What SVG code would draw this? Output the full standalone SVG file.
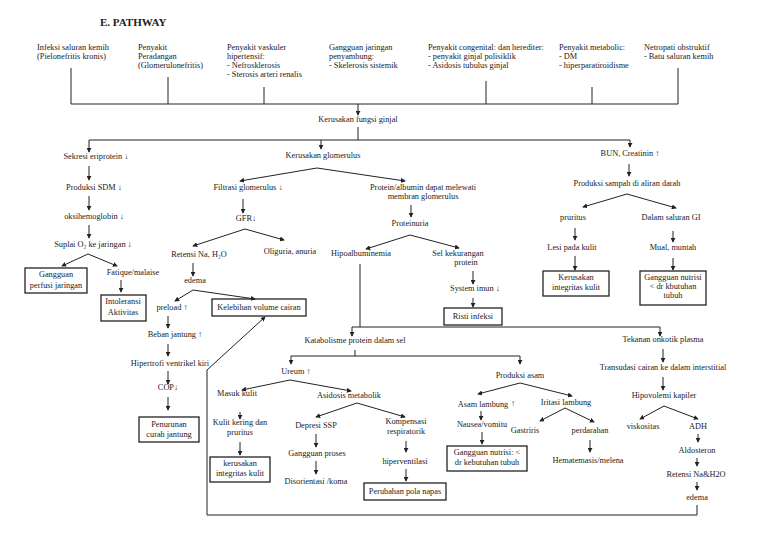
<svg xmlns="http://www.w3.org/2000/svg" width="768" height="543" viewBox="0 0 768 543">
<style>
text{font-family:"Liberation Serif","DejaVu Serif",serif;font-size:8.3px;fill:#222}
.c{text-anchor:middle}
.t{font-weight:bold;font-size:11px}
.l{stroke:#222;stroke-width:1;fill:none}
.a{stroke:#222;stroke-width:1;fill:none;marker-end:url(#ah)}
.b{stroke:#222;stroke-width:1.3;fill:#fff}
</style>
<defs><marker id="ah" viewBox="0 0 6 6" refX="5" refY="3" markerWidth="5" markerHeight="5" orient="auto"><path d="M0,0L6,3L0,6z" fill="#222"/></marker></defs>
<rect width="768" height="543" fill="#fff"/>
<text x="100" y="26" class="t">E. PATHWAY</text>
<g id="causes">
<text x="37" y="50">Infeksi saluran kemih</text><text x="37" y="59">(Pielonefritis kronis)</text>
<text x="138" y="50">Penyakit</text><text x="138" y="59">Peradangan</text><text x="138" y="68">(Glomerulonefritis)</text>
<text x="227" y="50">Penyakit vaskuler</text><text x="227" y="59">hipertensif:</text><text x="227" y="68">-  Nefrosklerosis</text><text x="227" y="77">-  Sterosis arteri renalis</text>
<text x="329" y="50">Gangguan jaringan</text><text x="329" y="59">penyambung:</text><text x="329" y="68">-  Skelerosis sistemik</text>
<text x="428" y="50">Penyakit congenital: dan herediter:</text><text x="428" y="59">-  penyakit ginjal polisiklik</text><text x="428" y="68">-  Asidosis tubulus ginjal</text>
<text x="559" y="50">Penyakit metabolic:</text><text x="559" y="59">-  DM</text><text x="559" y="68">-  hiperparatiroidisme</text>
<text x="644" y="50">Netropati obstruktif</text><text x="644" y="59">-  Batu saluran kemih</text>
</g>
<g id="nodes">
<text x="358" y="122" class="c">Kerusakan fungsi ginjal</text>
<text x="96" y="159" class="c">Sekresi eriprotein ↓</text>
<text x="94" y="190" class="c">Produksi SDM ↓</text>
<text x="94" y="219" class="c">oksihemoglobin ↓</text>
<text x="93" y="247" class="c">Suplai O₂ ke jaringan ↓</text>
<rect x="25" y="268" width="62" height="25" class="b"/><text x="56" y="277" class="c">Gangguan</text><text x="56" y="288" class="c">perfusi jaringan</text>
<text x="133" y="275" class="c">Fatique/malaise</text>
<rect x="101" y="295" width="45" height="26" class="b"/><text x="123" y="304" class="c">Intoleransi</text><text x="123" y="315" class="c">Aktivitas</text>
<text x="323" y="158" class="c">Kerusakan glomerulus</text>
<text x="248" y="190" class="c">Filtrasi glomerulus ↓</text>
<text x="246" y="221" class="c">GFR↓</text>
<text x="199" y="257" class="c">Retensi Na, H₂O</text>
<text x="290" y="254" class="c">Oliguria, anuria</text>
<text x="195" y="283" class="c">edema</text>
<text x="172" y="310" class="c">preload ↑</text>
<rect x="212" y="299" width="94" height="17" class="b"/><text x="259" y="310" class="c">Kelebihan volume cairan</text>
<text x="175" y="337" class="c">Beban jantung ↑</text>
<text x="170" y="366" class="c">Hipertrofi ventrikel kiri</text>
<text x="168" y="390" class="c">COP↓</text>
<rect x="139" y="417" width="60" height="25" class="b"/><text x="169" y="427" class="c">Penurunan</text><text x="169" y="437" class="c">curah jantung</text>
<text x="423" y="190" class="c">Protein/albumin dapat melewati</text><text x="423" y="199" class="c">membran glomerulus</text>
<text x="410" y="226" class="c">Proteinuria</text>
<text x="361" y="256" class="c">Hipoalbuminemia</text>
<text x="458" y="256" class="c">Sel  kekurangan</text><text x="466" y="265" class="c">protein</text>
<text x="475" y="291" class="c">System imun ↓</text>
<rect x="444" y="308" width="58" height="17" class="b"/><text x="473" y="319" class="c">Risti infeksi</text>
<text x="630" y="156" class="c">BUN, Creatinin ↑</text>
<text x="627" y="186" class="c">Produksi sampah di aliran darah</text>
<text x="573" y="220" class="c">pruritus</text>
<text x="671" y="220" class="c">Dalam saluran GI</text>
<text x="572" y="250" class="c">Lesi pada kulit</text>
<text x="673" y="250" class="c">Mual, muntah</text>
<rect x="543" y="271" width="66" height="25" class="b"/><text x="576" y="280" class="c">Kerusakan</text><text x="576" y="290" class="c">integritas kulit</text>
<rect x="640" y="271" width="66" height="34" class="b"/><text x="673" y="280" class="c">Gangguan nutrisi</text><text x="673" y="289" class="c">&lt; dr kbutuhan</text><text x="673" y="298" class="c">tubuh</text>
<text x="355" y="343" class="c">Katabolisme protein dalam sel</text>
<text x="663" y="342" class="c">Tekanan onkotik plasma</text>
<text x="296" y="374" class="c">Ureum ↑</text>
<text x="237" y="396" class="c">Masuk kulit</text>
<text x="349" y="398" class="c">Asidosis metabolik</text>
<text x="240" y="425" class="c">Kulit kering dan</text><text x="240" y="435" class="c">pruritus</text>
<rect x="210" y="457" width="60" height="25" class="b"/><text x="240" y="466" class="c">kerusakan</text><text x="240" y="476" class="c">integritas kulit</text>
<text x="316" y="428" class="c">Depresi SSP</text>
<text x="317" y="456" class="c">Gangguan proses</text>
<text x="316" y="484" class="c">Disorientasi /koma</text>
<text x="406" y="424" class="c">Kompensasi</text><text x="406" y="434" class="c">respiratorik</text>
<text x="405" y="464" class="c">hiperventilasi</text>
<rect x="364" y="483" width="82" height="17" class="b"/><text x="405" y="494" class="c">Perubahan  pola napas</text>
<text x="520" y="378" class="c">Produksi asam</text>
<text x="483" y="407" class="c">Asam lambung</text><text x="513" y="406" class="c">↑</text>
<text x="482" y="427" class="c">Nausea/vomitu</text>
<rect x="447" y="446" width="80" height="25" class="b"/><text x="487" y="455" class="c">Gangguan nutrisi: &lt;</text><text x="487" y="465" class="c">dr kebutuhan tubuh</text>
<text x="566" y="405" class="c">Iritasi lambung</text>
<text x="525" y="433" class="c">Gastriris</text>
<text x="590" y="433" class="c">perdarahan</text>
<text x="588" y="463" class="c">Hematemasis/melena</text>
<text x="663" y="370" class="c">Transudasi cairan ke dalam interstitial</text>
<text x="664" y="398" class="c">Hipovolemi kapiler</text>
<text x="643" y="429" class="c">viskositas</text>
<text x="698" y="429" class="c">ADH</text>
<text x="697" y="453" class="c">Aldosteron</text>
<text x="696" y="477" class="c">Retensi Na&amp;H2O</text>
<text x="697" y="500" class="c">edema</text>
</g>
<g id="connectors">
<path class="l" d="M71,68V104M168,77V104M264,87V104M486,81V104M592,87V104M678,68V104M71,104H678"/>
<path class="a" d="M358,104V115"/>
<path class="l" d="M358,127V140M89,140H630"/>
<path class="a" d="M89,140V152"/><path class="a" d="M321,140V149"/><path class="a" d="M630,140V147"/>
<path class="a" d="M89,166V180"/><path class="a" d="M89,196V210"/><path class="a" d="M89,225V238"/>
<path class="a" d="M88,254L62,266"/><path class="a" d="M88,254L117,266"/>
<path class="a" d="M121,280V292"/>
<path class="a" d="M317,168L240,181"/><path class="a" d="M317,168L405,181"/>
<path class="a" d="M243,199V213"/>
<path class="a" d="M245,229L193,246"/><path class="a" d="M245,229L284,240"/>
<path class="a" d="M193,263V276"/>
<path class="a" d="M193,290L175,301"/><path class="a" d="M193,290L255,299"/>
<path class="a" d="M168,316V328"/><path class="a" d="M168,344V356"/><path class="a" d="M168,371V384"/><path class="a" d="M168,397V410"/>
<path class="a" d="M207,370L265,317"/>
<path class="l" d="M207,370V515H697V505"/>
<path class="a" d="M411,205V217"/>
<path class="a" d="M410,235L366,249"/><path class="a" d="M410,235L459,248"/>
<path class="a" d="M473,271V284"/><path class="a" d="M473,298V307"/>
<path class="l" d="M360,264V327M352,327H660"/>
<path class="a" d="M352,327V336"/><path class="a" d="M660,327V336"/>
<path class="a" d="M629,164V176"/>
<path class="a" d="M627,194L583,207"/><path class="a" d="M627,194L676,208"/>
<path class="a" d="M575,228V240"/><path class="a" d="M575,256V270"/>
<path class="a" d="M673,231V242"/><path class="a" d="M673,258V270"/>
<path class="l" d="M355,350V356M291,356H520"/>
<path class="a" d="M291,356V364"/><path class="a" d="M520,356V364"/>
<path class="a" d="M290,380L242,390"/><path class="a" d="M290,380L351,391"/>
<path class="a" d="M240,412V419"/><path class="a" d="M240,442V455"/>
<path class="a" d="M357,403L316,417"/><path class="a" d="M357,403L405,417"/>
<path class="a" d="M316,434V447"/><path class="a" d="M316,461V474"/>
<path class="a" d="M406,441V452"/><path class="a" d="M406,469V481"/>
<path class="a" d="M520,383L478,394"/><path class="a" d="M520,383L572,396"/>
<path class="a" d="M481,411V420"/><path class="a" d="M482,432V444"/>
<path class="a" d="M565,408L540,421"/><path class="a" d="M565,408L594,422"/>
<path class="a" d="M590,440V452"/>
<path class="a" d="M663,349V362"/><path class="a" d="M663,377V390"/>
<path class="a" d="M664,406L640,419"/><path class="a" d="M664,406L698,419"/>
<path class="a" d="M698,434V442"/><path class="a" d="M697,458V466"/><path class="a" d="M697,482V490"/>
</g>
</svg>
